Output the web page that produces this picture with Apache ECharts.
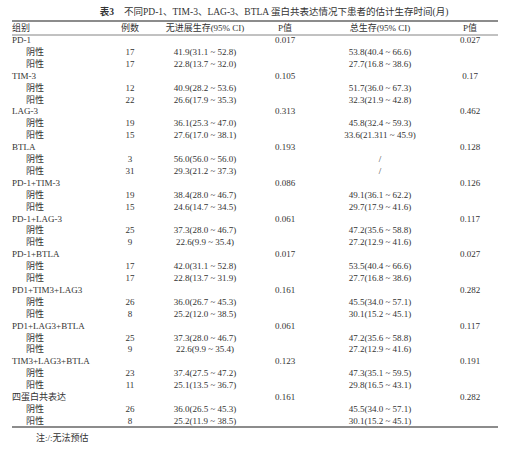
<!DOCTYPE html>
<html><head><meta charset="utf-8">
<script src="https://cdn.jsdelivr.net/npm/echarts@6/dist/echarts.min.js"></script>
<style>html,body{margin:0;background:#fff}#c{width:510px;height:449px}</style>
</head><body><div id="c"></div>
<script>
var groups = ['PD-1', 'TIM-3', 'LAG-3', 'BTLA', 'PD-1+TIM-3', 'PD-1+LAG-3', 'PD-1+BTLA', 'PD1+TIM3+LAG3', 'PD1+LAG3+BTLA', 'TIM3+LAG3+BTLA', '四蛋白共表达'];
var negN = [17, 12, 19, 3, 19, 25, 17, 26, 25, 23, 26];
var posN = [17, 22, 15, 31, 15, 9, 17, 8, 9, 11, 8];
var pfsNeg = ['41.9(31.1 ~ 52.8)', '40.9(28.2 ~ 53.6)', '36.1(25.3 ~ 47.0)', '56.0(56.0 ~ 56.0)', '38.4(28.0 ~ 46.7)', '37.3(28.0 ~ 46.7)', '42.0(31.1 ~ 52.8)', '36.0(26.7 ~ 45.3)', '37.3(28.0 ~ 46.7)', '37.4(27.5 ~ 47.2)', '36.0(26.5 ~ 45.3)'];
var pfsPos = ['22.8(13.7 ~ 32.0)', '26.6(17.9 ~ 35.3)', '27.6(17.0 ~ 38.1)', '29.3(21.2 ~ 37.3)', '24.6(14.7 ~ 34.5)', '22.6(9.9 ~ 35.4)', '22.8(13.7 ~ 31.9)', '25.2(12.0 ~ 38.5)', '22.6(9.9 ~ 35.4)', '25.1(13.5 ~ 36.7)', '25.2(11.9 ~ 38.5)'];
var pfsP = ['0.017', '0.105', '0.313', '0.193', '0.086', '0.061', '0.017', '0.161', '0.061', '0.123', '0.161'];
var osNeg = ['53.8(40.4 ~ 66.6)', '51.7(36.0 ~ 67.3)', '45.8(32.4 ~ 59.3)', '/', '49.1(36.1 ~ 62.2)', '47.2(35.6 ~ 58.8)', '53.5(40.4 ~ 66.6)', '45.5(34.0 ~ 57.1)', '47.2(35.6 ~ 58.8)', '47.3(35.1 ~ 59.5)', '45.5(34.0 ~ 57.1)'];
var osPos = ['27.7(16.8 ~ 38.6)', '32.3(21.9 ~ 42.8)', '33.6(21.311 ~ 45.9)', '/', '29.7(17.9 ~ 41.6)', '27.2(12.9 ~ 41.6)', '27.7(16.8 ~ 38.6)', '30.1(15.2 ~ 45.1)', '27.2(12.9 ~ 41.6)', '29.8(16.5 ~ 43.1)', '30.1(15.2 ~ 45.1)'];
var osP = ['0.027', '0.17', '0.462', '0.128', '0.126', '0.117', '0.027', '0.282', '0.117', '0.191', '0.282'];
var headers = ['组别', '例数', '无进展生存(95% CI)', 'P值', '总生存(95% CI)', 'P值'];

var font = '"Liberation Serif", "Noto Sans CJK SC", serif';
var ink = '#333';
var colX = [12, 130, 205, 285, 380, 470];
var top0 = 40, step = 11.9;
var els = [];
function txt(x, y, s, align, extra) {
  var st = { x: x, y: y, text: s, fill: ink, font: '9px ' + font, textAlign: align || 'center', textVerticalAlign: 'middle' };
  if (extra) for (var k in extra) st[k] = extra[k];
  els.push({ type: 'text', style: st });
}
function rule(y, w) {
  els.push({ type: 'line', shape: { x1: 12, y1: y, x2: 498, y2: y }, style: { stroke: '#666', lineWidth: w } });
}

txt(114, 12, '表3', 'right', { font: 'bold 9.5px ' + font });
txt(124, 12, '不同PD-1、TIM-3、LAG-3、BTLA 蛋白共表达情况下患者的估计生存时间(月)', 'left', { font: '9.5px ' + font });
rule(21, 1.6);
headers.forEach(function(h, i) { txt(colX[i], 28, h, i === 0 ? 'left' : 'center'); });
rule(35, 0.8);

groups.forEach(function(g, i) {
  var y = top0 + i * 3 * step;
  txt(12, y, g, 'left');
  txt(colX[3], y, pfsP[i]);
  txt(colX[5], y, osP[i]);
  txt(26, y + step, '阴性', 'left');
  txt(colX[1], y + step, String(negN[i]));
  txt(colX[2], y + step, pfsNeg[i]);
  txt(colX[4], y + step, osNeg[i]);
  txt(26, y + 2 * step, '阳性', 'left');
  txt(colX[1], y + 2 * step, String(posN[i]));
  txt(colX[2], y + 2 * step, pfsPos[i]);
  txt(colX[4], y + 2 * step, osPos[i]);
});
rule(427, 1.6);
txt(36, 438, '注:/:无法预估', 'left');

var chart = echarts.init(document.getElementById('c'), null, { renderer: 'svg' });
chart.setOption({ animation: false, graphic: { elements: els } });
</script></body></html>
